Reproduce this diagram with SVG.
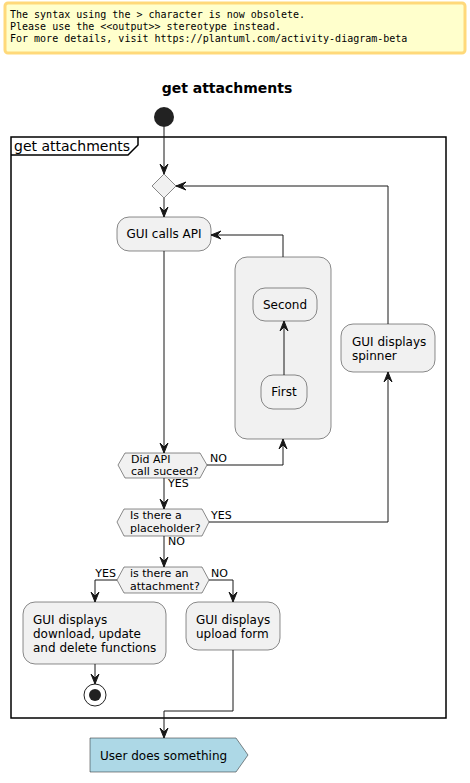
<svg xmlns="http://www.w3.org/2000/svg" width="470" height="783" viewBox="0 0 470 783">
<defs>
<style>
.t{font-family:"DejaVu Sans",sans-serif;font-size:12px;fill:#000}
.s{font-family:"DejaVu Sans",sans-serif;font-size:11px;fill:#000}
.m{font-family:"DejaVu Sans Mono",monospace;font-size:10px;fill:#000}
.act{fill:#F1F1F1;stroke:#181818;stroke-width:0.5}
.ln{fill:none;stroke:#181818;stroke-width:1}
.ah{fill:#181818;stroke:#181818;stroke-width:1}
</style>
</defs>
<g id="note">
<rect x="5" y="3" width="460" height="50" rx="3" fill="#FFFFCC" stroke="#FFD97A" stroke-width="3"/>
<text class="m" x="10" y="18">The syntax using the &gt; character is now obsolete.</text>
<text class="m" x="10" y="30">Please use the &lt;&lt;output&gt;&gt; stereotype instead.</text>
<text class="m" x="10" y="42">For more details, visit https://plantuml.com/activity-diagram-beta</text>
</g>
<text x="227" y="93" text-anchor="middle" font-family="DejaVu Sans,sans-serif" font-size="14" font-weight="bold">get attachments</text>
<g id="frame">
<rect x="11" y="137" width="435" height="581" fill="none" stroke="#000" stroke-width="1.5"/>
<path d="M11,155 L128,155 L138,145 L138,137" fill="none" stroke="#000" stroke-width="1.5"/>
<text x="14" y="151" font-family="DejaVu Sans,sans-serif" font-size="14">get attachments</text>
</g>
<g id="start"><circle cx="164" cy="117" r="10" fill="#222"/></g>
<g id="merge"><polygon points="152,186 164,174 176,186 164,198" class="act"/></g>
<g id="gui-calls-api">
<rect class="act" x="117" y="217" width="94" height="34" rx="12"/>
<text class="t" x="164" y="238" text-anchor="middle">GUI calls API</text>
</g>
<g id="container">
<rect class="act" x="235" y="257" width="96" height="182" rx="12"/>
</g>
<g id="second">
<rect class="act" x="253" y="288" width="64" height="33" rx="12"/>
<text class="t" x="285" y="309" text-anchor="middle">Second</text>
</g>
<g id="first">
<rect class="act" x="261" y="375" width="46" height="34" rx="12"/>
<text class="t" x="284" y="396" text-anchor="middle">First</text>
</g>
<g id="spinner">
<rect class="act" x="341" y="324" width="94" height="48" rx="12"/>
<text class="t" x="352" y="346">GUI displays</text>
<text class="t" x="352" y="360">spinner</text>
</g>
<g id="dec-api">
<polygon class="act" points="118,465 125,453 200,453 207,465 200,478 125,478"/>
<text class="s" x="131" y="463">Did API</text>
<text class="s" x="131" y="475">call suceed?</text>
</g>
<g id="dec-placeholder">
<polygon class="act" points="117,522 124,509 202,509 209,522 202,536 124,536"/>
<text class="s" x="130" y="519">Is there a</text>
<text class="s" x="130" y="532">placeholder?</text>
</g>
<g id="dec-attachment">
<polygon class="act" points="117,580 124,567 202,567 209,580 202,593 124,593"/>
<text class="s" x="130" y="577">is there an</text>
<text class="s" x="130" y="590">attachment?</text>
</g>
<g id="download">
<rect class="act" x="23" y="602" width="143" height="62" rx="12"/>
<text class="t" x="33" y="624">GUI displays</text>
<text class="t" x="33" y="638">download, update</text>
<text class="t" x="33" y="652">and delete functions</text>
</g>
<g id="upload">
<rect class="act" x="186" y="602" width="94" height="48" rx="12"/>
<text class="t" x="196" y="624">GUI displays</text>
<text class="t" x="196" y="638">upload form</text>
</g>
<g id="stop">
<circle cx="95" cy="695" r="11" fill="none" stroke="#222" stroke-width="1"/>
<circle cx="95" cy="695" r="6" fill="#222"/>
</g>
<g id="user-does-something">
<polygon points="90,738 236,738 248,755 236,772 90,772" fill="#ADD8E6" stroke="#181818" stroke-width="0.5"/>
<text class="t" x="100" y="760">User does something</text>
</g>
<g id="connectors">
<line class="ln" x1="164" y1="127" x2="164" y2="174"/>
<polygon class="ah" points="160,164 164,174 168,164 164,168"/>
<polyline class="ln" points="388,324 388,186 176,186"/>
<polygon class="ah" points="186,182 176,186 186,190 182,186"/>
<line class="ln" x1="164" y1="198" x2="164" y2="217"/>
<polygon class="ah" points="160,207 164,217 168,207 164,211"/>
<polyline class="ln" points="283,257 283,235 211,235"/>
<polygon class="ah" points="221,231 211,235 221,239 217,235"/>
<line class="ln" x1="284" y1="375" x2="284" y2="321"/>
<polygon class="ah" points="280,331 284,321 288,331 284,327"/>
<line class="ln" x1="164" y1="251" x2="164" y2="453"/>
<polygon class="ah" points="160,443 164,453 168,443 164,447"/>
<polyline class="ln" points="207,465 283,465 283,439"/>
<polygon class="ah" points="279,449 283,439 287,449 283,445"/>
<line class="ln" x1="164" y1="478" x2="164" y2="509"/>
<polygon class="ah" points="160,499 164,509 168,499 164,503"/>
<polyline class="ln" points="209,522 388,522 388,372"/>
<polygon class="ah" points="384,382 388,372 392,382 388,378"/>
<line class="ln" x1="164" y1="536" x2="164" y2="567"/>
<polygon class="ah" points="160,557 164,567 168,557 164,561"/>
<polyline class="ln" points="117,580 95,580 95,602"/>
<polygon class="ah" points="91,592 95,602 99,592 95,596"/>
<polyline class="ln" points="209,580 233,580 233,602"/>
<polygon class="ah" points="229,592 233,602 237,592 233,596"/>
<line class="ln" x1="95" y1="664" x2="95" y2="684"/>
<polygon class="ah" points="91,674 95,684 99,674 95,678"/>
<polyline class="ln" points="233,650 233,711 164,711 164,738"/>
<polygon class="ah" points="160,728 164,738 168,728 164,732"/>
</g>
<g id="labels">
<text class="s" x="210" y="462">NO</text>
<text class="s" x="168" y="487">YES</text>
<text class="s" x="211" y="519">YES</text>
<text class="s" x="168" y="545">NO</text>
<text class="s" x="116" y="577" text-anchor="end">YES</text>
<text class="s" x="211" y="577">NO</text>
</g>
</svg>
